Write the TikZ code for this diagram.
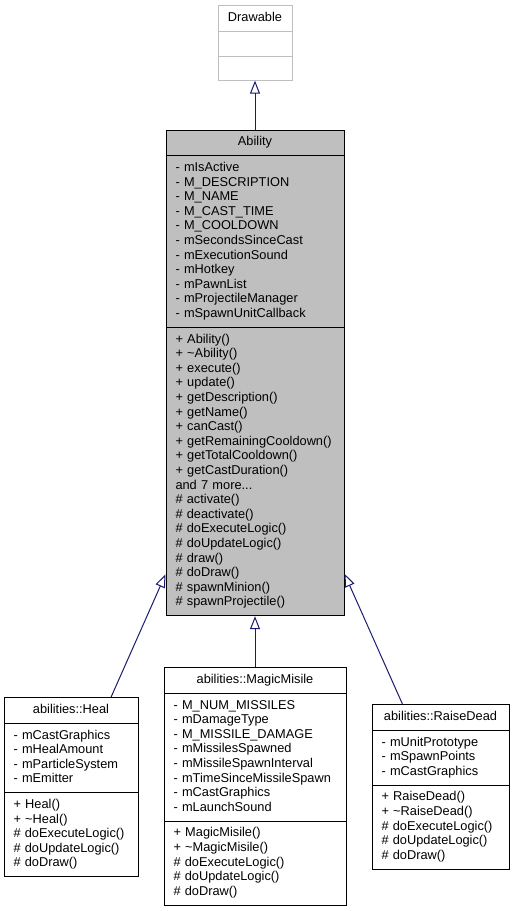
\documentclass[tikz,border=0pt]{standalone}
\usepackage{fontspec}
\setmainfont{Liberation Sans}
\usetikzlibrary{shapes.multipart, arrows.meta, positioning}
\definecolor{edgeblue}{RGB}{25,25,112}
\definecolor{basegray}{RGB}{191,191,191}
\newcommand{\umlfont}{\fontsize{12.8}{14.6}\selectfont}
\newcommand{\classname}[1]{\makebox[\hsize]{\strut #1}}
\tikzset{
  classbox/.style={rectangle split, rectangle split parts=3, draw=black,
    line width=1pt, fill=white, text width=#1, align=left, font=\umlfont,
    inner xsep=9.5pt, inner ysep=5pt},
  basebox/.style={classbox=#1, draw=basegray},
  mainbox/.style={classbox=#1, fill=basegray},
  inherit/.style={-{Triangle[open, length=13pt, width=10pt]}, line width=1pt,
    color=edgeblue},
}

\begin{document}
\begin{tikzpicture}[x=1pt, y=-1pt]
  \useasboundingbox (0,0) rectangle (513,911);

  \node[basebox=55pt, anchor=north] (drawable) at (255,5)
    {\classname{Drawable}
     \nodepart{two}\rule{0pt}{14pt}
     \nodepart{three}\rule{0pt}{13pt}};

  \node[mainbox=159pt, below=49pt of drawable] (ability)
    {\classname{Ability}
     \nodepart{two}\strut - mIsActive\\
     - M\_DESCRIPTION\\
     - M\_NAME\\
     - M\_CAST\_TIME\\
     - M\_COOLDOWN\\
     - mSecondsSinceCast\\
     - mExecutionSound\\
     - mHotkey\\
     - mPawnList\\
     - mProjectileManager\\
     - mSpawnUnitCallback\strut
     \nodepart{three}\strut + Ability()\\
     + \textasciitilde Ability()\\
     + execute()\\
     + update()\\
     + getDescription()\\
     + getName()\\
     + canCast()\\
     + getRemainingCooldown()\\
     + getTotalCooldown()\\
     + getCastDuration()\\
     and 7 more...\\
     \# activate()\\
     \# deactivate()\\
     \# doExecuteLogic()\\
     \# doUpdateLogic()\\
     \# draw()\\
     \# doDraw()\\
     \# spawnMinion()\\
     \# spawnProjectile()\strut};

  \node[classbox=115pt, below left=81pt and 27pt of ability] (heal)
    {\classname{abilities::Heal}
     \nodepart{two}\strut - mCastGraphics\\
     - mHealAmount\\
     - mParticleSystem\\
     - mEmitter\strut
     \nodepart{three}\strut + Heal()\\
     + \textasciitilde Heal()\\
     \# doExecuteLogic()\\
     \# doUpdateLogic()\\
     \# doDraw()\strut};

  \node[classbox=163pt, below=51pt of ability] (magic)
    {\classname{abilities::MagicMisile}
     \nodepart{two}\strut - M\_NUM\_MISSILES\\
     - mDamageType\\
     - M\_MISSILE\_DAMAGE\\
     - mMissilesSpawned\\
     - mMissileSpawnInterval\\
     - mTimeSinceMissileSpawn\\
     - mCastGraphics\\
     - mLaunchSound\strut
     \nodepart{three}\strut + MagicMisile()\\
     + \textasciitilde MagicMisile()\\
     \# doExecuteLogic()\\
     \# doUpdateLogic()\\
     \# doDraw()\strut};

  \node[classbox=118pt, below right=88pt and 27pt of ability] (raise)
    {\classname{abilities::RaiseDead}
     \nodepart{two}\strut - mUnitPrototype\\
     - mSpawnPoints\\
     - mCastGraphics\strut
     \nodepart{three}\strut + RaiseDead()\\
     + \textasciitilde RaiseDead()\\
     \# doExecuteLogic()\\
     \# doUpdateLogic()\\
     \# doDraw()\strut};

  % inheritance edges
  \draw[inherit] (ability) -- (drawable);
  \draw[inherit] ([xshift=40pt]heal.north) -- (ability);
  \draw[inherit] (magic) -- (ability);
  \draw[inherit] ([xshift=-38pt]raise.north) -- (ability);
\end{tikzpicture}
\end{document}
